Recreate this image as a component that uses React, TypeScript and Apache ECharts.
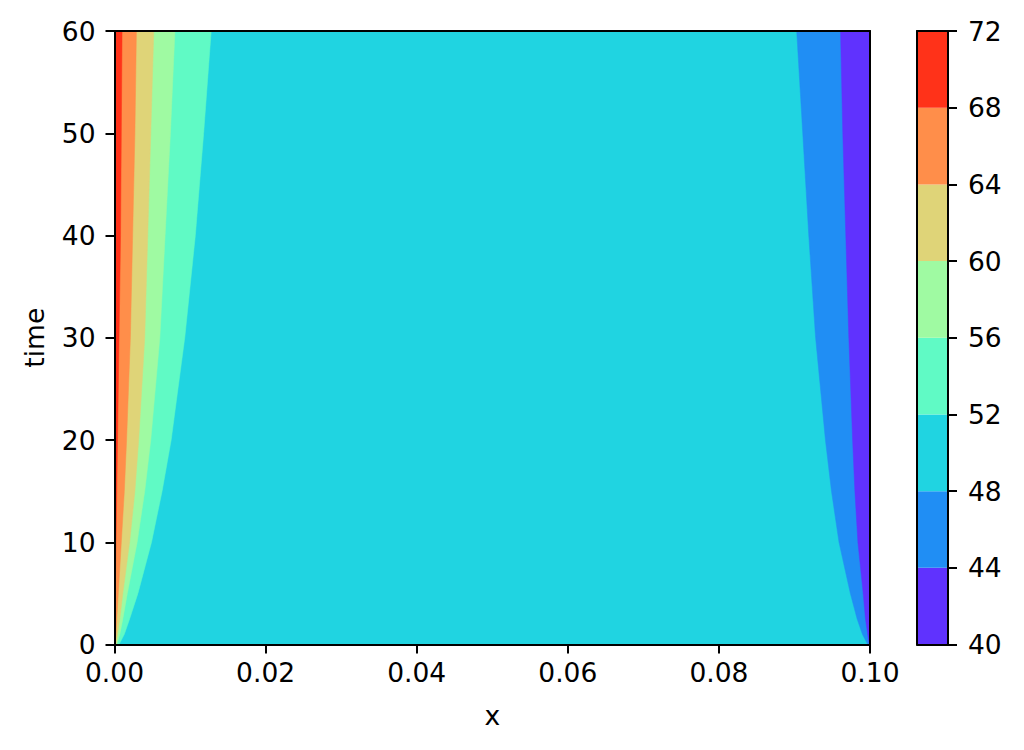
import React, { useEffect, useRef } from "react";
import * as echarts from "echarts";

// contour levels and colours (rainbow colormap at band midpoints)
const levels = [40, 44, 48, 52, 56, 60, 64, 68, 72];
const bandColors = ["#6032fe", "#208ef4", "#20d4e1", "#60fac5", "#9ffaa2", "#dfd478", "#ff8e4a", "#ff3219"];

// time samples at which the contour boundaries are read
const times = [0, 1, 2.5, 5, 10, 15, 20, 30, 40, 50, 60];

// left-side contour lines (x position of level at each time)
const left52 = [0.0006, 0.0013, 0.002, 0.0031, 0.0049, 0.0063, 0.0075, 0.0093, 0.0107, 0.0118, 0.0128];
const left56 = [0.0003, 0.0007, 0.0011, 0.0017, 0.003, 0.004, 0.0048, 0.006, 0.0067, 0.0074, 0.008];
const left60 = [0.0002, 0.0004, 0.0007, 0.0011, 0.002, 0.0027, 0.0032, 0.004, 0.0044, 0.0048, 0.0052];
const left64 = [0.0001, 0.0002, 0.0003, 0.0005, 0.0009, 0.0013, 0.0016, 0.0021, 0.0024, 0.0027, 0.0029];
const left68 = [0, 0.00005, 0.0001, 0.0001, 0.0002, 0.0003, 0.0004, 0.0006, 0.0008, 0.0009, 0.001];
// right-side contour lines
const right48 = [0.0997, 0.099, 0.0983, 0.0974, 0.0959, 0.0949, 0.0941, 0.0928, 0.0919, 0.0911, 0.0903];
const right44 = [0.0999, 0.0997, 0.0994, 0.0991, 0.0984, 0.098, 0.0977, 0.0972, 0.0968, 0.0964, 0.0961];

const xTicks = [0, 0.02, 0.04, 0.06, 0.08, 0.1];
const xMax = 0.1;
const tMax = 60;

type Band = { side: "full" | "left" | "right"; xs: number[]; color: string };
const bands: Band[] = [
  { side: "full", xs: [], color: bandColors[2] },
  { side: "left", xs: left52, color: bandColors[3] },
  { side: "left", xs: left56, color: bandColors[4] },
  { side: "left", xs: left60, color: bandColors[5] },
  { side: "left", xs: left64, color: bandColors[6] },
  { side: "left", xs: left68, color: bandColors[7] },
  { side: "right", xs: right48, color: bandColors[1] },
  { side: "right", xs: right44, color: bandColors[0] },
];

const FONT = "DejaVu Sans";
const FS = 26.5;

export default function App() {
  const ref = useRef<HTMLDivElement>(null);
  useEffect(() => {
    if (!ref.current) return;
    const chart = echarts.init(ref.current, null, { renderer: "svg" });
    const axisLineStyle = { color: "#000", width: 2 };
    const frameAxis = {
      show: true,
      axisLine: { show: true, onZero: false, lineStyle: axisLineStyle },
      axisTick: { show: false },
      axisLabel: { show: false },
      splitLine: { show: false },
      z: 10,
    };
    chart.setOption({
      animation: false,
      textStyle: { fontFamily: FONT },
      grid: [
        { left: 114.5, top: 31, width: 755.5, height: 613.5 },
        { left: 917, top: 31, width: 31, height: 613.5 },
      ],
      xAxis: [
        {
          type: "value",
          gridIndex: 0,
          min: 0,
          max: xMax,
          interval: 0.02,
          position: "bottom",
          name: "x",
          nameLocation: "middle",
          nameGap: 57,
          nameTextStyle: { fontSize: FS, color: "#000", fontFamily: FONT },
          axisLine: { show: true, onZero: false, lineStyle: axisLineStyle },
          axisTick: { show: true, inside: false, length: 9, lineStyle: { color: "#000", width: 2 } },
          axisLabel: {
            fontSize: FS,
            color: "#000",
            fontFamily: FONT,
            margin: 14,
            formatter: (v: number) => v.toFixed(2),
            customValues: xTicks,
          },
          splitLine: { show: false },
          z: 10,
        },
        { type: "value", gridIndex: 0, min: 0, max: xMax, position: "top", ...frameAxis },
        { type: "value", gridIndex: 1, min: 0, max: 1, position: "bottom", ...frameAxis },
        { type: "value", gridIndex: 1, min: 0, max: 1, position: "top", ...frameAxis },
      ],
      yAxis: [
        {
          type: "value",
          gridIndex: 0,
          min: 0,
          max: tMax,
          interval: 10,
          position: "left",
          name: "time",
          nameLocation: "middle",
          nameGap: 67,
          nameRotate: 90,
          nameTextStyle: { fontSize: FS, color: "#000", fontFamily: FONT },
          axisLine: { show: true, onZero: false, lineStyle: axisLineStyle },
          axisTick: { show: true, inside: false, length: 9, lineStyle: { color: "#000", width: 2 } },
          axisLabel: { fontSize: FS, color: "#000", fontFamily: FONT, margin: 19 },
          splitLine: { show: false },
          z: 10,
        },
        { type: "value", gridIndex: 0, min: 0, max: tMax, position: "right", ...frameAxis },
        {
          type: "value",
          gridIndex: 1,
          min: levels[0],
          max: levels[levels.length - 1],
          interval: 4,
          position: "right",
          axisLine: { show: true, onZero: false, lineStyle: axisLineStyle },
          axisTick: { show: true, inside: false, length: 9, lineStyle: { color: "#000", width: 2 } },
          axisLabel: { fontSize: FS, color: "#000", fontFamily: FONT, margin: 20 },
          splitLine: { show: false },
          z: 10,
        },
        { type: "value", gridIndex: 1, min: levels[0], max: levels[levels.length - 1], position: "left", ...frameAxis },
      ],
      series: [
        {
          type: "custom",
          xAxisIndex: 0,
          yAxisIndex: 0,
          clip: true,
          data: bands.map((_, i) => [i]),
          encode: { x: -1, y: -1 },
          renderItem: (params: any, api: any) => {
            const b = bands[params.dataIndex];
            let pts: number[][];
            if (b.side === "full") {
              pts = [[0, 0], [xMax, 0], [xMax, tMax], [0, tMax]];
            } else if (b.side === "left") {
              pts = [[0, 0], ...b.xs.map((x, i) => [x, times[i]]), [0, tMax]];
            } else {
              pts = [[xMax, 0], ...b.xs.map((x, i) => [x, times[i]]), [xMax, tMax]];
            }
            return {
              type: "polygon",
              shape: { points: pts.map((p) => api.coord(p)) },
              style: { fill: b.color, stroke: b.color, lineWidth: 0.5 },
            };
          },
        },
        {
          type: "custom",
          xAxisIndex: 2,
          yAxisIndex: 2,
          data: bandColors.map((_, i) => [i]),
          encode: { x: -1, y: -1 },
          renderItem: (params: any, api: any) => {
            const i = params.dataIndex;
            const p0 = api.coord([0, levels[i]]);
            const p1 = api.coord([1, levels[i + 1]]);
            return {
              type: "rect",
              shape: { x: p0[0], y: p1[1], width: p1[0] - p0[0], height: p0[1] - p1[1] },
              style: { fill: bandColors[i] },
            };
          },
        },
      ],
    });
    return () => chart.dispose();
  }, []);
  return (
    <div
      ref={ref}
      style={{ position: "fixed", left: 0, top: 0, width: 1024, height: 750, background: "#fff" }}
    />
  );
}
